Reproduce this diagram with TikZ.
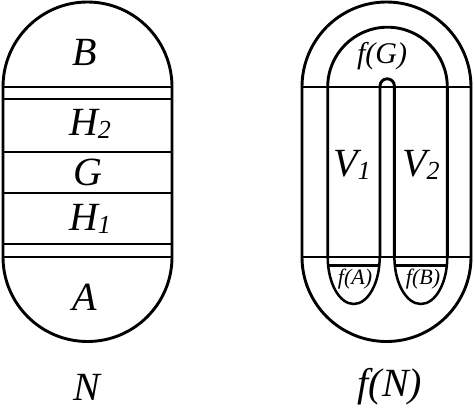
\documentclass[tikz,border=0pt]{standalone}
\usepackage{fontspec}
\setmainfont{Liberation Serif}
\newcommand{\sbs}[1]{\raisebox{-3pt}{\fontsize{26}{26}\selectfont #1}}
\tikzset{
  edge/.style={line width=2.9pt, line join=round},
  thin edge/.style={line width=2.5pt},
  big/.style={font=\fontsize{40}{40}\selectfont\itshape, inner sep=0pt},
  mid/.style={font=\fontsize{30}{30}\selectfont\itshape, inner sep=0pt},
  small/.style={font=\fontsize{22}{22}\selectfont\itshape, inner sep=0pt},
}
\begin{document}
\begin{tikzpicture}[x=1pt,y=-1pt]
\useasboundingbox (0,0) rectangle (474,410);
% ---------- left: N ----------
\draw[edge] (3,87) arc[start angle=180,end angle=360,x radius=84.5,y radius=85]
  -- (172,257) arc[start angle=0,end angle=180,radius=84.5] -- cycle;
\foreach \yy in {87,99,152,193,244,257}
  \draw[edge] (3,\yy) -- (172,\yy);
\node[big] (B) at (85,52) {B};
\node[big] (H2) at (90,124) {H\sbs{2}};
\node[big] (G) at (88,172) {G};
\node[big] (H1) at (90,219) {H\sbs{1}};
\node[big] (A) at (85,297) {A};
\node[big] (N) at (87,387) {N};
% ---------- right: f(N) ----------
\draw[edge] (302,87) arc[start angle=180,end angle=360,x radius=84.5,y radius=85]
  -- (471,257) arc[start angle=0,end angle=180,radius=84.5] -- cycle;
\draw[edge] (302,87) -- (471,87);
\draw[edge] (302,257) -- (471,257);
% inner arch
\draw[edge] (327.7,257) -- (327.7,87) arc[start angle=180,end angle=360,radius=59.8] -- (447.3,257);
% middle U
\draw[edge] (380,257) -- (380,86) arc[start angle=180,end angle=360,radius=7.2] -- (394.4,257);
% f(A) and f(B) cups
\draw[thin edge] (327.7,257) arc[start angle=180,end angle=0,x radius=26,y radius=47];
\draw[thin edge] (327.7,265.5) -- (379.7,265.5);
\draw[thin edge] (394.4,257) arc[start angle=180,end angle=0,x radius=26.45,y radius=47];
\draw[thin edge] (394.4,265.5) -- (447.3,265.5);
\node[mid] (fG) at (382,56) {f(G)};
\node[big] (V1) at (352,165) {V\sbs{1}};
\node[big] (V2) at (421,165) {V\sbs{2}};
\node[small] (fA) at (355,279) {f(A)};
\node[small] (fB) at (423,279) {f(B)};
\node[big] (fN) at (390,387) {f(N)};
\end{tikzpicture}
\end{document}
